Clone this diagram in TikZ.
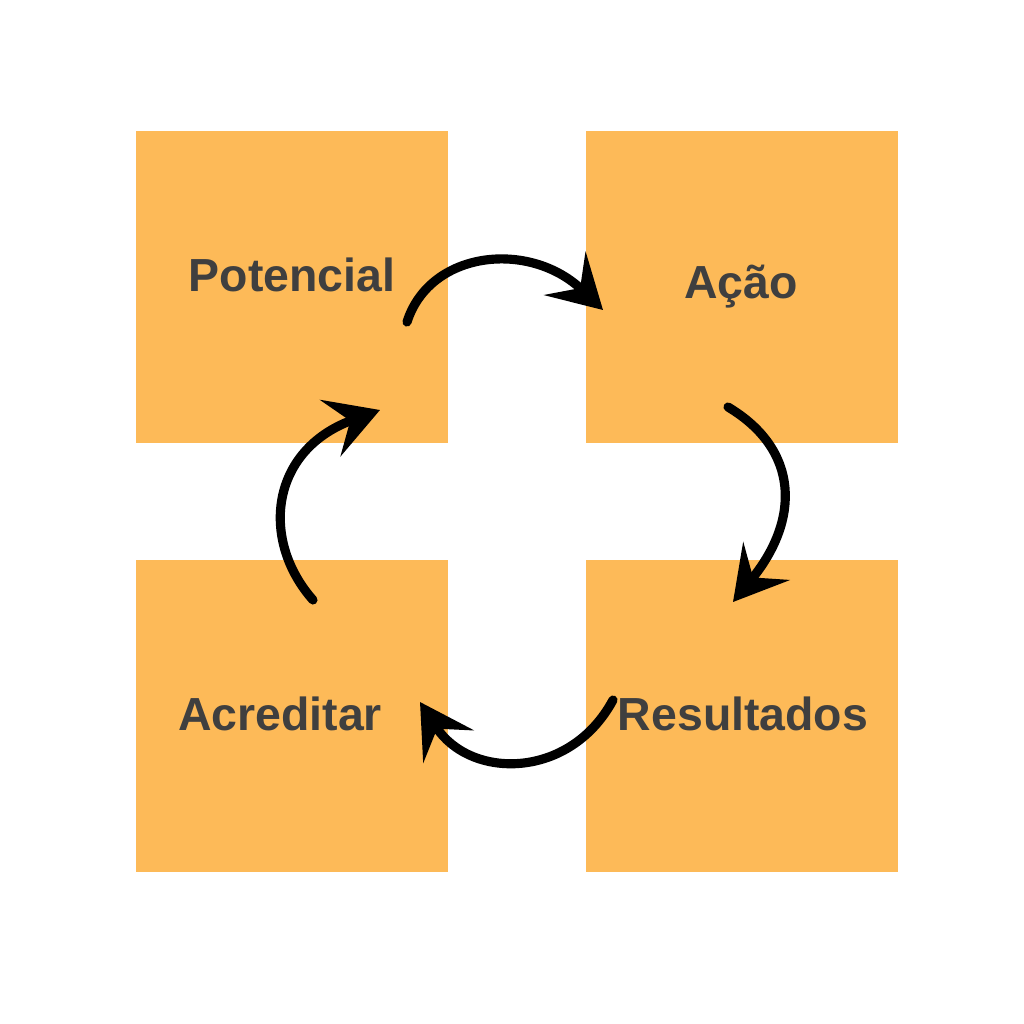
\documentclass[tikz,border=0pt]{standalone}
\usepackage{fontspec}
\setmainfont{Liberation Sans}
\usetikzlibrary{arrows.meta}
\definecolor{boxorange}{HTML}{FDBA58}
\definecolor{labelgray}{HTML}{3F3F3F}

\begin{document}
\begin{tikzpicture}[
    x=0.01cm, y=-0.01cm,
    quadrant/.style={rectangle, fill=boxorange, minimum width=3.12cm, minimum height=3.12cm, inner sep=0pt},
    label text/.style={font=\fontsize{13.2}{15}\selectfont\bfseries, text=labelgray},
    cycle arrow/.style={line width=2.6pt, line cap=round, -{Stealth[length=15pt, width=17pt, inset=6pt]}}
]
\useasboundingbox (0,0) rectangle (1024,1024);

\node[quadrant] (potencial) at (292,287) {};
\node[quadrant] (acao) at (742,287) {};
\node[quadrant] (acreditar) at (292,716) {};
\node[quadrant] (resultados) at (742,716) {};

\node[label text] (tpot) at (292,275) {Potencial};
\node[label text] (tacao) at (741,287) {Ação};
\node[label text] (tacr) at (280,714) {Acreditar};
\node[label text] (tres) at (743,714) {Resultados};

\coordinate (a1s) at (407,322);
\coordinate (a1e) at (603,310);
\coordinate (a2s) at (728,407);
\coordinate (a2e) at (733,602);
\coordinate (a3s) at (613,700);
\coordinate (a3e) at (420,702);
\coordinate (a4s) at (313,600);
\coordinate (a4e) at (380,410);

\draw[cycle arrow] (a1s) .. controls (430,250) and (530,240) .. (a1e);
\draw[cycle arrow] (a2s) .. controls (800,450) and (800,520) .. (a2e);
\draw[cycle arrow] (a3s) .. controls (570,780) and (470,780) .. (a3e);
\draw[cycle arrow] (a4s) .. controls (260,540) and (270,450) .. (a4e);

\end{tikzpicture}
\end{document}
